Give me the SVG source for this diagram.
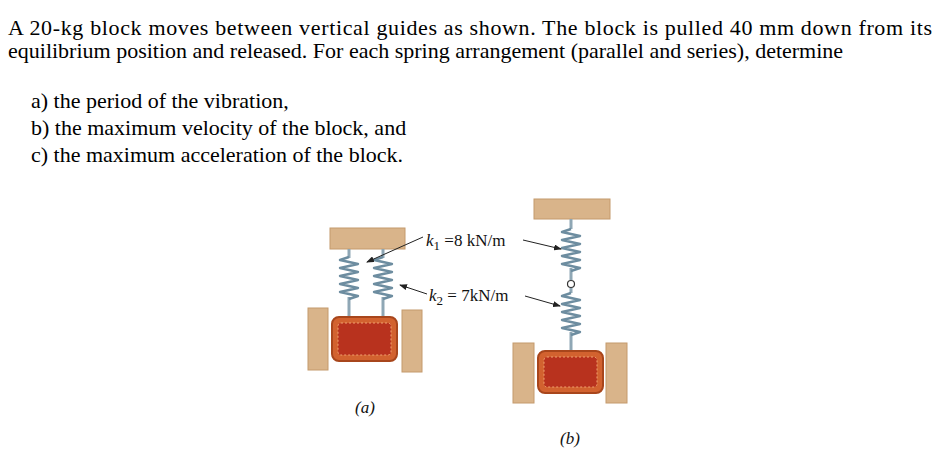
<svg xmlns="http://www.w3.org/2000/svg" width="940" height="460" viewBox="0 0 940 460">
<defs>
<style>
.t{font-family:"Liberation Serif",serif;font-size:22px;fill:#000}
.l{font-family:"Liberation Serif",serif;font-size:17px;fill:#111}
.wood{fill:#d9b48a;stroke:#c49a6c;stroke-width:1}
.rod{stroke:#8fa7b5;stroke-width:3;fill:none}
.coil{stroke:#6d8da0;stroke-width:2.4;fill:none;stroke-linejoin:round}
.blk{fill:#d2622f;stroke:#a8461c;stroke-width:2}
.in{fill:#b8321e;stroke:#f0a070;stroke-width:1;stroke-dasharray:2 2}
.ar{stroke:#222;stroke-width:1;fill:none}
</style>
<marker id="ah" markerWidth="8" markerHeight="6" refX="7" refY="3" orient="auto"><path d="M0,0 L8,3 L0,6 z" fill="#222"/></marker>
<path id="sp" d="M0,0 l-9,3 l18,4 l-18,4 l18,4 l-18,4 l18,4 l-18,4 l18,4 l-18,4 l18,4 l-9,3" class="coil"/>
</defs>
<rect width="940" height="460" fill="#fff"/>
<g id="text">
<text class="t" x="8" y="35" textLength="924" lengthAdjust="spacing">A 20-kg block moves between vertical guides as shown. The block is pulled 40 mm down from its</text>
<text class="t" x="8" y="58">equilibrium position and released. For each spring arrangement (parallel and series), determine</text>
<text class="t" x="31" y="108">a)  the period of the vibration,</text>
<text class="t" x="31" y="135">b)  the maximum velocity of the block, and</text>
<text class="t" x="31" y="162">c)  the maximum acceleration of the block.</text>
</g>
<g id="figA">
<rect class="wood" x="330" y="228" width="75" height="21"/>
<rect class="wood" x="308" y="308" width="20" height="62"/>
<rect class="wood" x="402" y="310" width="20" height="62"/>
<path class="rod" d="M349,249 V258 M349,297 V318 M383,249 V258 M383,297 V318"/>
<use href="#sp" x="349" y="257"/>
<use href="#sp" x="383" y="257"/>
<rect class="blk" x="332" y="317" width="65" height="44" rx="7"/>
<rect class="in" x="338" y="323" width="53" height="32" rx="3"/>
<text class="l" x="355" y="413" font-style="italic">(a)</text>
</g>
<g id="figB">
<rect class="wood" x="534" y="199" width="76" height="20"/>
<rect class="wood" x="513" y="343" width="21" height="60"/>
<rect class="wood" x="606" y="343" width="21" height="60"/>
<path class="rod" d="M571,219 V229 M571,268 V280 M571,288 V293 M571,332 V352"/>
<use href="#sp" x="571" y="229"/>
<use href="#sp" x="571" y="293"/>
<circle cx="571" cy="284" r="3.5" fill="#fff" stroke="#333" stroke-width="1.2"/>
<rect class="blk" x="538" y="351" width="65" height="42" rx="7"/>
<rect class="in" x="544" y="357" width="53" height="30" rx="3"/>
<text class="l" x="560" y="444" font-style="italic">(b)</text>
</g>
<g id="labels">
<text class="l" x="426" y="246" font-size="20"><tspan font-style="italic">k</tspan><tspan font-size="13" dy="4">1</tspan><tspan dy="-4"> =8 kN/m</tspan></text>
<text class="l" x="429" y="301" font-size="20"><tspan font-style="italic">k</tspan><tspan font-size="13" dy="4">2</tspan><tspan dy="-4"> = 7kN/m</tspan></text>
</g>
<g id="connectors">
<line class="ar" x1="423" y1="237" x2="367" y2="262" marker-end="url(#ah)"/>
<line class="ar" x1="523" y1="240" x2="561" y2="249" marker-end="url(#ah)"/>
<line class="ar" x1="427" y1="294" x2="400" y2="285" marker-end="url(#ah)"/>
<line class="ar" x1="525" y1="296" x2="560" y2="306" marker-end="url(#ah)"/>
</g>
</svg>
